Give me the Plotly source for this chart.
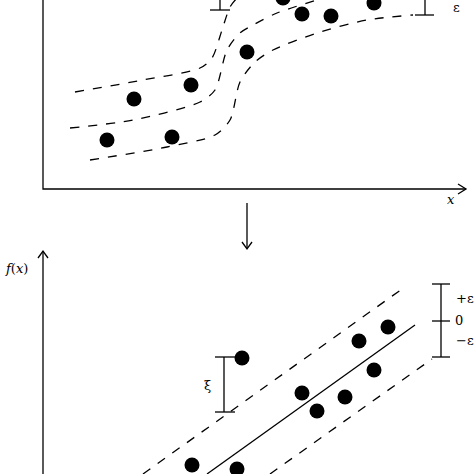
import plotly.graph_objects as go

# Top panel data points (pixel-space coordinates)
top_x = [107, 134, 172, 191, 247, 283, 302, 331, 374]
top_y = [140, 99, 137, 85, 52, -2, 14, 16, 3]
mid_cx = [70, 133, 200, 215, 227, 240, 255, 277, 317]
mid_cy = [128, 120, 102, 90, 50, 33, 24, 13, 0]
up_cx = [75, 143, 200, 212, 222, 230, 237]
up_cy = [92, 80, 68, 58, 30, 7, -2]
lo_cx = [90, 167, 215, 230, 240, 255, 273, 317, 367, 413]
lo_cy = [160, 147, 135, 120, 82, 62, 50, 33, 20, 15]

# Bottom panel
bot_x = [242, 359, 388, 374, 302, 345, 317, 192, 237]
bot_y = [358, 341, 327, 370, 393, 397, 411, 465, 469]
solid_x = [207, 415]; solid_y = [474, 325]
updash_x = [143, 402]; updash_y = [474, 289]
lodash_x = [270, 432]; lodash_y = [474, 359]

fig = go.Figure()
def ln(x, y, dash=None, shape="linear"):
    fig.add_trace(go.Scatter(x=x, y=y, mode="lines", line=dict(color="black", width=1.3, dash=dash, shape=shape, smoothing=0.8), hoverinfo="skip"))

ln(mid_cx, mid_cy, "dash", "spline")
ln(up_cx, up_cy, "dash", "spline")
ln(lo_cx, lo_cy, "dash", "spline")
ln(solid_x, solid_y)
ln(updash_x, updash_y, "dash")
ln(lodash_x, lodash_y, "dash")
# axes
ln([43, 43, 466], [0, 189, 189])
ln([458, 466, 458], [184, 189, 194])
ln([247, 247], [203, 248])
ln([242, 247, 252], [242, 249, 242])
ln([43, 43], [474, 251])
ln([38, 43, 48], [258, 251, 258])
# brackets
ln([220, 220], [0, 10]); ln([210, 230], [10, 10])
ln([425, 425], [0, 15]); ln([415, 434], [15, 15])
ln([441, 441], [284, 357])
for yy in (284, 321, 357):
    ln([432, 450], [yy, yy])
ln([224, 224], [357, 412]); ln([215, 235], [357, 357]); ln([215, 235], [412, 412])

fig.add_trace(go.Scatter(x=top_x + bot_x, y=top_y + bot_y, mode="markers",
                         marker=dict(color="black", size=15), hoverinfo="skip"))

tf = dict(family="DejaVu Serif", size=13, color="black")
for t, x, y in [("<i>x</i>", 451, 199), ("<i>f</i>(<i>x</i>)", 16, 268), ("+ε", 465, 298),
                ("0", 459, 320), ("−ε", 465, 340), ("ξ", 207, 385), ("ε", 456, 7)]:
    fig.add_annotation(x=x, y=y, text=t, showarrow=False, font=tf, xanchor="center", yanchor="middle")

fig.update_layout(width=474, height=474, margin=dict(l=0, r=0, t=0, b=0),
                  paper_bgcolor="white", plot_bgcolor="white", showlegend=False,
                  xaxis=dict(range=[0, 474], visible=False),
                  yaxis=dict(range=[474, 0], visible=False))
fig.write_html("out.html", config={"displayModeBar": False},
               post_script="document.body.style.margin='0';")
